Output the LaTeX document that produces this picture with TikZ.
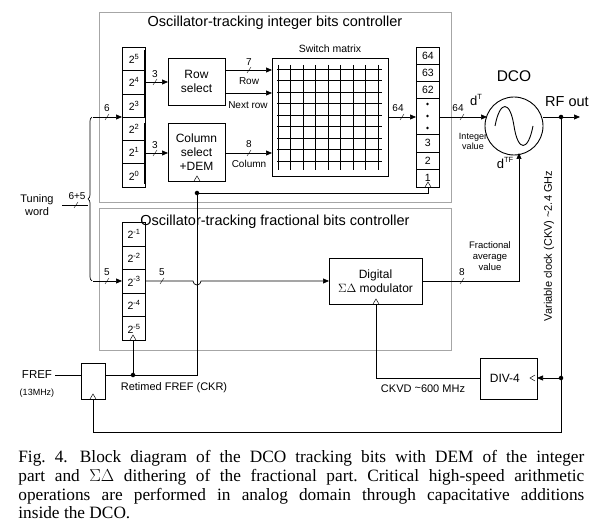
\documentclass[tikz,border=0pt]{standalone}
\usepackage{fontspec}
\setmainfont{Liberation Sans}
\newfontfamily\capfont{Liberation Serif}
\usetikzlibrary{arrows.meta,decorations.pathreplacing,calc}
\newcommand\bsl[1]{\draw[thin] (#1)++(-2,3)--++(4,-6);}
\newcommand\clk[2]{\draw[fill=white,line width=0.5pt] (#1)++(-3,0)--++(3,-5)--++(3,5);}
\newcommand\sps[1]{\raisebox{0.75ex}{\fontsize{7.5}{8}\selectfont #1}}
\begin{document}
\frenchspacing
\begin{tikzpicture}[x=1pt,y=-1pt,line width=0.7pt,
 arr/.style={-{Triangle[length=6pt,width=5pt]}},
 blk/.style={draw,line width=0.7pt,align=center,inner sep=0pt,font=\fontsize{12}{14}\selectfont},
 cell/.style={draw,minimum width=23pt,inner sep=0pt,font=\fontsize{10.5}{11}\selectfont},
 lab/.style={font=\fontsize{10}{11}\selectfont,inner sep=1pt,align=center},
 frame/.style={draw=gray!70,line width=0.8pt},
 dot/.style={circle,fill,inner sep=1.6pt}]
\useasboundingbox (0,0) rectangle (600,526);
% frames
\draw[frame] (99,12) rectangle (451,202);
\draw[frame] (99,208) rectangle (451,350);
\node[font=\fontsize{14.5}{16}\selectfont] (t1) at (275,23) {Oscillator-tracking integer bits controller};
\node[font=\fontsize{14.5}{16}\selectfont] (t2) at (275,222) {Oscillator-tracking fractional bits controller};
% left integer register
\foreach \e [count=\i from 0] in {5,4,3,2,1,0}
  \node[cell,minimum height=23.3pt,anchor=north west] (r\i) at (122,{47+23.3*\i}) {2\sps{\e}};
\draw[line width=2pt] (145,50)--(145,117);
\draw[line width=2pt] (145,123)--(145,184);
% fractional register
\foreach \e [count=\i from 1] in {1,2,3,4,5}
  \node[cell,minimum height=23.6pt,anchor=north west] (f\i) at (122,{222+23.6*(\i-1)}) {2\sps{-\e}};
% row/col select
\node[blk,minimum width=57pt,minimum height=47pt] (row) at (196.5,81.5) {Row\\select};
\node[blk,minimum width=57pt,minimum height=58pt] (col) at (196.5,152) {Column\\select\\+DEM};
\draw[arr] (145,82)--(168,82); \bsl{155,82} \node[lab] at (155,74) {3};
\draw[arr] (145,153)--(168,153); \bsl{155,153} \node[lab] at (155,145) {3};
% switch matrix
\node[draw,minimum width=116pt,minimum height=118pt,anchor=north west,inner sep=0] (sm) at (272,58) {};
\foreach \x in {278,290.5,303,315.5,328,340.5,353,365.5,378} \draw[line width=0.5pt] (\x,65)--(\x,170);
\foreach \y in {69,80.5,92,103.5,115,126.5,138,149.5,161} \draw[line width=0.5pt] (277,\y)--(382,\y);
\node[lab,font=\fontsize{10.5}{11}\selectfont] at (330,49) {Switch matrix};
\draw[arr] (225,70)--(272,70); \bsl{249,70} \node[lab] at (249,62) {7};
\node[lab] at (249,81) {Row};
\draw[arr] (225,93)--(272,93); \node[lab] at (248,105) {Next row};
\draw[arr] (225,153)--(272,153); \bsl{249,153} \node[lab] at (249,144) {8};
\node[lab] at (249,164) {Column};
% right register
\node[cell,minimum height=17pt,anchor=north west] (c64) at (416,47) {64};
\node[cell,minimum height=17pt,anchor=north west] (c63) at (416,64) {63};
\node[cell,minimum height=17pt,anchor=north west] (c62) at (416,81) {62};
\node[cell,minimum height=36pt,anchor=north west] (cd) at (416,98) {};
\foreach \y in {104,116,128} \fill (427.5,\y) circle (1.3pt);
\node[cell,minimum height=18pt,anchor=north west] (c3) at (416,134) {3};
\node[cell,minimum height=17pt,anchor=north west] (c2) at (416,152) {2};
\node[cell,minimum height=18pt,anchor=north west] (c1) at (416,169) {1};
\draw[arr] (388,117)--(416,117); \bsl{402,117} \node[lab] at (398,108) {64};
% DCO
\node[draw,circle,minimum size=58pt,inner sep=0,line width=0.9pt] (dco) at (514,126) {};
\draw[line width=0.9pt] (495,126) .. controls (500,100) and (510,100) .. (514,126) .. controls (518,152) and (528,152) .. (533,126);
\node[font=\fontsize{15.5}{17}\selectfont] at (514,76) {DCO};
\node[font=\fontsize{13}{14}\selectfont] at (476,100) {d\sps{T}};
\node[font=\fontsize{13}{14}\selectfont] at (505,163) {d\sps{TF}};
\draw[arr] (439,117)--(487,117); \bsl{462,117} \node[lab] at (458,108) {64};
\node[lab,font=\fontsize{9}{10}\selectfont] at (473,141) {Integer\\value};
\node[font=\fontsize{14.5}{16}\selectfont] at (567,102) {RF out};
\draw[arr] (543,117)--(580,117);
\node[dot] (rfd) at (561,117) {};
% sigma delta
\node[blk,minimum width=93pt,minimum height=46pt] (sd) at (375.5,281) {Digital\\$\Sigma\Delta$ modulator};
\draw[arr] (422,281)--(519,281)--(519,153); \bsl{462,281} \node[lab] at (462,272) {8};
\node[lab,font=\fontsize{9.5}{11}\selectfont] at (490,256) {Fractional\\average\\value};
% tuning word
\node[lab,font=\fontsize{11}{13}\selectfont] (tw) at (37,205) {Tuning\\word};
\draw (62,205)--(88,205); \bsl{76,205} \node[lab] at (77,196) {6+5};
\draw[decorate,decoration={brace,amplitude=4pt}] (92,281)--(92,117);
\draw[arr] (93,117)--(122,117); \bsl{107,117} \node[lab] at (107,108) {6};
\draw[arr] (93,281)--(122,281); \bsl{107,281} \node[lab] at (107,272) {5};
\draw[arr] (145,281)--(193,281) arc[start angle=180,end angle=0,radius=4]--(329,281); \bsl{162,281} \node[lab] at (162,272) {5};
% FF
\node[draw,minimum width=24pt,minimum height=36pt,inner sep=0,anchor=north west] (ff) at (81,363) {};
\node[lab,font=\fontsize{11.5}{13}\selectfont] (fref) at (37,375) {FREF};
\node[lab,font=\fontsize{9}{10}\selectfont] at (37,393) {(13MHz)};
\draw (fref.east)++(2,0)--(81,375);
\draw (105,375)--(197,375)--(197,193)--(428,193)--(428,187);
\node[dot] (d1) at (197,193) {};
\node[dot] (d2) at (133,375) {};
\draw (133,375)--(133,340);
\clk{133,340}{}
\clk{428,187}{}
\clk{197,181}{}
\clk{93,399}{}
\clk{376,304}{}
\node[lab,font=\fontsize{11}{13}\selectfont] at (174,388) {Retimed FREF (CKR)};
% DIV-4
\node[blk,minimum width=57pt,minimum height=41pt,anchor=north west] (div) at (480,358) {DIV-4\hspace*{8pt}};
\draw (376,304)--(376,378)--(480,378);
\node[lab,font=\fontsize{11}{13}\selectfont] at (423,389) {CKVD \raisebox{0.3ex}{\textasciitilde}600 MHz};
\draw[line width=0.5pt] (535,375)--(530,378)--(535,381);
\draw[arr] (561,378)--(537,378);
\node[dot] at (561,378) {};
\draw (561,117)--(561,432)--(93,432)--(93,399);
\node[rotate=90,lab,font=\fontsize{11}{13}\selectfont] at (549,246) {Variable clock (CKV) \textasciitilde2.4 GHz};
% caption
\node[anchor=north west,text width=566pt,inner sep=0,align=justify,font=\capfont\fontsize{17.3}{18.8}\selectfont] (cap) at (18,450)
{Fig.~4.\hspace{0.7em}Block diagram of the DCO tracking bits with DEM of the integer\linebreak part and $\Sigma\Delta$ dithering of the fractional part. Critical high-speed arithmetic\linebreak operations are performed in analog domain through capacitative additions\linebreak inside the DCO.};
\end{tikzpicture}
\end{document}
